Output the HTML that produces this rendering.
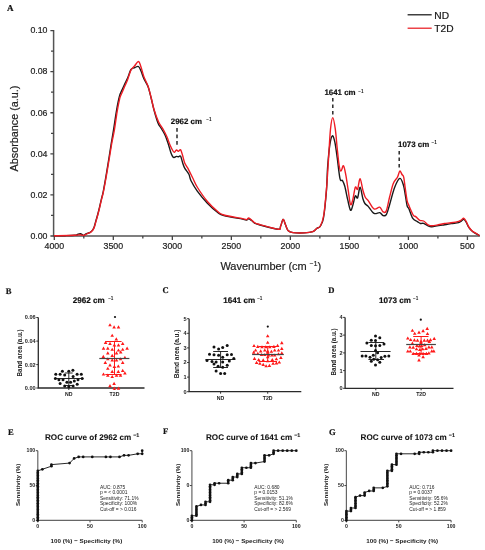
<!DOCTYPE html>
<html><head><meta charset="utf-8"><title>Figure</title>
<style>html,body{margin:0;padding:0;background:#fff;width:485px;height:550px;overflow:hidden}svg{display:block;will-change:transform}.h{text-rendering:geometricPrecision;stroke:#1a1a1a;stroke-width:0.2px}.m{text-rendering:geometricPrecision;stroke:#1a1a1a;stroke-width:0.08px}</style>
</head><body>
<svg width="485" height="550" viewBox="0 0 485 550">
<rect width="485" height="550" fill="#fff"/>
<text x="7" y="10.8" font-family="'Liberation Serif', serif" font-size="9" font-weight="bold" fill="#111" class="h">A</text>
<path d="M53.6,236 H480 M53.6,236.6 V30" stroke="#555" stroke-width="1.5" fill="none"/>
<path d="M50.4,236 H54 M51,215.46 H54 M50.4,194.92 H54 M51,174.38 H54 M50.4,153.84 H54 M51,133.3 H54 M50.4,112.76 H54 M51,92.22 H54 M50.4,71.68 H54 M51,51.14 H54 M50.4,30.6 H54 M54.29,236 V240 M83.8,236 V238.5 M113.31,236 V240 M142.82,236 V238.5 M172.33,236 V240 M201.84,236 V238.5 M231.35,236 V240 M260.85,236 V238.5 M290.36,236 V240 M319.87,236 V238.5 M349.38,236 V240 M378.89,236 V238.5 M408.4,236 V240 M437.91,236 V238.5 M467.42,236 V240" stroke="#444" stroke-width="1.3" fill="none"/>
<text x="47.5" y="238.8" font-family="'Liberation Sans', sans-serif" font-size="8.8" fill="#222" stroke="#222" stroke-width="0.2" text-anchor="end">0.00</text>
<text x="47.5" y="197.72" font-family="'Liberation Sans', sans-serif" font-size="8.8" fill="#222" stroke="#222" stroke-width="0.2" text-anchor="end">0.02</text>
<text x="47.5" y="156.64" font-family="'Liberation Sans', sans-serif" font-size="8.8" fill="#222" stroke="#222" stroke-width="0.2" text-anchor="end">0.04</text>
<text x="47.5" y="115.56" font-family="'Liberation Sans', sans-serif" font-size="8.8" fill="#222" stroke="#222" stroke-width="0.2" text-anchor="end">0.06</text>
<text x="47.5" y="74.48" font-family="'Liberation Sans', sans-serif" font-size="8.8" fill="#222" stroke="#222" stroke-width="0.2" text-anchor="end">0.08</text>
<text x="47.5" y="33.4" font-family="'Liberation Sans', sans-serif" font-size="8.8" fill="#222" stroke="#222" stroke-width="0.2" text-anchor="end">0.10</text>
<text x="54.29" y="249.1" font-family="'Liberation Sans', sans-serif" font-size="8.8" fill="#222" stroke="#222" stroke-width="0.2" text-anchor="middle">4000</text>
<text x="113.31" y="249.1" font-family="'Liberation Sans', sans-serif" font-size="8.8" fill="#222" stroke="#222" stroke-width="0.2" text-anchor="middle">3500</text>
<text x="172.33" y="249.1" font-family="'Liberation Sans', sans-serif" font-size="8.8" fill="#222" stroke="#222" stroke-width="0.2" text-anchor="middle">3000</text>
<text x="231.35" y="249.1" font-family="'Liberation Sans', sans-serif" font-size="8.8" fill="#222" stroke="#222" stroke-width="0.2" text-anchor="middle">2500</text>
<text x="290.36" y="249.1" font-family="'Liberation Sans', sans-serif" font-size="8.8" fill="#222" stroke="#222" stroke-width="0.2" text-anchor="middle">2000</text>
<text x="349.38" y="249.1" font-family="'Liberation Sans', sans-serif" font-size="8.8" fill="#222" stroke="#222" stroke-width="0.2" text-anchor="middle">1500</text>
<text x="408.4" y="249.1" font-family="'Liberation Sans', sans-serif" font-size="8.8" fill="#222" stroke="#222" stroke-width="0.2" text-anchor="middle">1000</text>
<text x="467.42" y="249.1" font-family="'Liberation Sans', sans-serif" font-size="8.8" fill="#222" stroke="#222" stroke-width="0.2" text-anchor="middle">500</text>
<text x="220.4" y="270.3" font-family="'Liberation Sans', sans-serif" font-size="11" fill="#222" stroke="#222" stroke-width="0.2">Wavenumber (cm <tspan font-size="6.6" dy="-4.2">−1</tspan><tspan dy="4.2">)</tspan></text>
<text transform="translate(17.7,128.5) rotate(-90)" x="0" y="0" font-family="'Liberation Sans', sans-serif" font-size="10.8" fill="#222" stroke="#222" stroke-width="0.2" text-anchor="middle">Absorbance (a.u.)</text>
<path d="M407.6,14.8 H431.7" stroke="#111" stroke-width="1.2"/>
<path d="M407.6,28.2 H431.7" stroke="#e8141b" stroke-width="1.2"/>
<text x="434.3" y="18.6" font-family="'Liberation Sans', sans-serif" font-size="10.2" fill="#111" class="h">ND</text>
<text x="434.3" y="32" font-family="'Liberation Sans', sans-serif" font-size="10.2" fill="#111" class="h">T2D</text>
<path d="M54,235.8 C55.83,235.78 61.5,235.78 65,235.7 C68.5,235.62 72.83,235.55 75,235.3 C77.17,235.05 77.08,234.45 78,234.2 C78.92,233.95 79.75,233.7 80.5,233.8 C81.25,233.9 81.92,234.53 82.5,234.8 C83.08,235.07 83.42,235.57 84,235.4 C84.58,235.23 85.33,234.17 86,233.8 C86.67,233.43 87.25,233.48 88,233.2 C88.75,232.92 89.72,232.65 90.5,232.1 C91.28,231.55 92.1,230.72 92.7,229.9 C93.3,229.08 93.57,228.7 94.1,227.2 C94.63,225.7 95.3,223.02 95.9,220.9 C96.5,218.78 97.1,216.77 97.7,214.5 C98.3,212.23 98.88,209.87 99.5,207.3 C100.12,204.73 100.78,201.68 101.4,199.1 C102.02,196.52 102.43,195.62 103.2,191.8 C103.97,187.98 105,182.08 106,176.2 C107,170.32 108.28,162.2 109.2,156.5 C110.12,150.8 110.78,146.42 111.5,142 C112.22,137.58 112.65,135.33 113.5,130 C114.35,124.67 115.62,115.6 116.6,110 C117.58,104.4 118.57,99.58 119.4,96.4 C120.23,93.22 120.62,93.18 121.6,90.9 C122.58,88.62 124.23,85.02 125.3,82.7 C126.37,80.38 127.05,79.2 128,77 C128.95,74.8 129.83,71.08 131,69.5 C132.17,67.92 133.75,68 135,67.5 C136.25,67 137.5,65.92 138.5,66.5 C139.5,67.08 140.08,68.92 141,71 C141.92,73.08 142.83,76.42 144,79 C145.17,81.58 146.83,83.42 148,86.5 C149.17,89.58 150,93.58 151,97.5 C152,101.42 152.83,105.75 154,110 C155.17,114.25 156.83,120 158,123 C159.17,126 159.83,126 161,128 C162.17,130 163.83,132.5 165,135 C166.17,137.5 167,140 168,143 C169,146 170.17,150.67 171,153 C171.83,155.33 172.43,156.27 173,157 C173.57,157.73 173.82,157.5 174.4,157.4 C174.98,157.3 175.8,156.5 176.5,156.4 C177.2,156.3 177.92,156.83 178.6,156.8 C179.28,156.77 179.92,155.17 180.6,156.2 C181.28,157.23 182.02,161.02 182.7,163 C183.38,164.98 183.67,166.22 184.7,168.1 C185.73,169.98 187.87,172.23 188.9,174.3 C189.93,176.37 189.53,177.75 190.9,180.5 C192.27,183.25 194.35,187.02 197.1,190.8 C199.85,194.58 203.97,199.58 207.4,203.2 C210.83,206.82 214.95,210.43 217.7,212.5 C220.45,214.57 219.77,214.5 223.9,215.6 C228.03,216.7 238.72,218.35 242.5,219.1 C246.28,219.85 245.57,220.17 246.6,220.1 C247.63,220.03 247.83,218.6 248.7,218.7 C249.57,218.8 250.75,219.93 251.8,220.7 C252.85,221.47 253.63,222.58 255,223.3 C256.37,224.02 256.15,224 260,225 C263.85,226 274.67,229.08 278.1,229.3 C281.53,229.52 279.77,227.95 280.6,226.3 C281.43,224.65 282.28,219.67 283.1,219.4 C283.92,219.13 284.68,222.87 285.5,224.7 C286.32,226.53 286.75,229.08 288,230.4 C289.25,231.72 290.25,232.18 293,232.6 C295.75,233.02 301.2,233.07 304.5,232.9 C307.8,232.73 310.73,232.37 312.8,231.6 C314.87,230.83 315.67,229.18 316.9,228.3 C318.13,227.42 319.1,228.02 320.2,226.3 C321.3,224.58 322.45,224.05 323.5,218 C324.55,211.95 325.82,198.45 326.5,190 C327.18,181.55 327.03,174.9 327.6,167.3 C328.17,159.7 329.1,149.65 329.9,144.4 C330.7,139.15 331.57,136.13 332.4,135.8 C333.23,135.47 334.1,138.75 334.9,142.4 C335.7,146.05 336.35,151.65 337.2,157.7 C338.05,163.75 339.12,174.88 340,178.7 C340.88,182.52 341.7,179.33 342.5,180.6 C343.3,181.87 343.93,183.12 344.8,186.3 C345.67,189.48 346.75,195.72 347.7,199.7 C348.65,203.68 349.65,209.25 350.5,210.2 C351.35,211.15 352,207.78 352.8,205.4 C353.6,203.02 354.5,197.17 355.3,195.9 C356.1,194.63 356.8,199.23 357.6,197.8 C358.4,196.37 359.22,187.15 360.1,187.3 C360.98,187.45 362.1,196 362.9,198.7 C363.7,201.4 364.02,202.22 364.9,203.5 C365.78,204.78 366.68,204.75 368.2,206.4 C369.72,208.05 372.08,212.37 374,213.4 C375.92,214.43 378.2,212.25 379.7,212.6 C381.2,212.95 381.9,215.17 383,215.5 C384.1,215.83 385.2,216.4 386.3,214.6 C387.4,212.8 388.22,209.22 389.6,204.7 C390.98,200.18 392.9,191.88 394.6,187.5 C396.3,183.12 398.35,178.87 399.8,178.4 C401.25,177.93 402.4,182.05 403.3,184.7 C404.2,187.35 404.57,190.8 405.2,194.3 C405.83,197.8 406.47,203.27 407.1,205.7 C407.73,208.13 408.05,206.78 409,208.9 C409.95,211.02 411.42,216.28 412.8,218.4 C414.18,220.52 416.03,220.75 417.3,221.6 C418.57,222.45 419.35,223.22 420.4,223.5 C421.45,223.78 422.32,222.92 423.6,223.3 C424.88,223.68 426.72,225.23 428.1,225.8 C429.48,226.37 429.15,226.87 431.9,226.7 C434.65,226.53 441.4,225.32 444.6,224.8 C447.8,224.28 448.77,223.97 451.1,223.6 C453.43,223.23 456.9,223.02 458.6,222.6 C460.3,222.18 460.45,221.63 461.3,221.1 C462.15,220.57 462.92,219.28 463.7,219.4 C464.48,219.52 465.15,220.47 466,221.8 C466.85,223.13 467.72,225.78 468.8,227.4 C469.88,229.02 471.12,230.37 472.5,231.5 C473.88,232.63 475.95,233.52 477.1,234.2 C478.25,234.88 479.02,235.37 479.4,235.6" stroke="#1a1a1a" stroke-width="1.4" fill="none" stroke-linejoin="round"/>
<path d="M54,235.8 C57.5,235.72 70.67,235.47 75,235.3 C79.33,235.13 78.5,234.8 80,234.8 C81.5,234.8 82.67,235.55 84,235.3 C85.33,235.05 86.92,233.8 88,233.3 C89.08,232.8 89.68,232.85 90.5,232.3 C91.32,231.75 92.27,230.83 92.9,230 C93.53,229.17 93.77,228.82 94.3,227.3 C94.83,225.78 95.5,223.03 96.1,220.9 C96.7,218.77 97.3,216.77 97.9,214.5 C98.5,212.23 99.08,209.87 99.7,207.3 C100.32,204.73 100.98,201.68 101.6,199.1 C102.22,196.52 102.62,195.62 103.4,191.8 C104.18,187.98 105.27,182.08 106.3,176.2 C107.33,170.32 108.65,162.2 109.6,156.5 C110.55,150.8 111.2,146.42 112,142 C112.8,137.58 113.55,135.03 114.4,130 C115.25,124.97 116.2,117.1 117.1,111.8 C118,106.5 119.12,101.08 119.8,98.2 C120.48,95.32 120.52,96.17 121.2,94.5 C121.88,92.83 122.85,90.62 123.9,88.2 C124.95,85.78 126.32,83.03 127.5,80 C128.68,76.97 129.83,72.33 131,70 C132.17,67.67 133.25,67.42 134.5,66 C135.75,64.58 137.42,61.33 138.5,61.5 C139.58,61.67 140.08,64.42 141,67 C141.92,69.58 142.83,73.83 144,77 C145.17,80.17 146.83,82.67 148,86 C149.17,89.33 150,93.08 151,97 C152,100.92 152.73,105.33 154,109.5 C155.27,113.67 157.1,118.75 158.6,122 C160.1,125.25 161.6,126.5 163,129 C164.4,131.5 165.83,134.33 167,137 C168.17,139.67 169,142.67 170,145 C171,147.33 172.25,149.78 173,151 C173.75,152.22 173.92,152.47 174.5,152.3 C175.08,152.13 175.82,150.17 176.5,150 C177.18,149.83 177.92,151.33 178.6,151.3 C179.28,151.27 179.92,149.05 180.6,149.8 C181.28,150.55 182.02,153.6 182.7,155.8 C183.38,158 183.85,160.95 184.7,163 C185.55,165.05 186.77,166.22 187.8,168.1 C188.83,169.98 190.03,172.57 190.9,174.3 C191.77,176.03 191.9,176.3 193,178.5 C194.1,180.7 195.1,183.67 197.5,187.5 C199.9,191.33 204.03,197.5 207.4,201.5 C210.77,205.5 214.95,209.25 217.7,211.5 C220.45,213.75 219.77,213.82 223.9,215 C228.03,216.18 238.72,217.83 242.5,218.6 C246.28,219.37 245.57,219.7 246.6,219.6 C247.63,219.5 247.83,217.9 248.7,218 C249.57,218.1 250.75,219.37 251.8,220.2 C252.85,221.03 253.63,222.27 255,223 C256.37,223.73 256.15,223.55 260,224.6 C263.85,225.65 274.67,229.02 278.1,229.3 C281.53,229.58 279.77,227.95 280.6,226.3 C281.43,224.65 282.28,219.67 283.1,219.4 C283.92,219.13 284.68,222.87 285.5,224.7 C286.32,226.53 286.75,229.08 288,230.4 C289.25,231.72 290.25,232.18 293,232.6 C295.75,233.02 301.2,233.07 304.5,232.9 C307.8,232.73 310.73,232.37 312.8,231.6 C314.87,230.83 315.67,229.18 316.9,228.3 C318.13,227.42 319.05,228.52 320.2,226.3 C321.35,224.08 322.72,221.67 323.8,215 C324.88,208.33 325.9,195.85 326.7,186.3 C327.5,176.75 327.97,167.23 328.6,157.7 C329.23,148.17 329.8,135.78 330.5,129.1 C331.2,122.42 332,117.6 332.8,117.6 C333.6,117.6 334.57,124 335.3,129.1 C336.03,134.2 336.57,142.17 337.2,148.2 C337.83,154.23 338.47,161.48 339.1,165.3 C339.73,169.12 340.27,171.03 341,171.1 C341.73,171.17 342.7,165.07 343.5,165.7 C344.3,166.33 345.02,170.82 345.8,174.9 C346.58,178.98 347.42,185.27 348.2,190.2 C348.98,195.13 349.73,202.92 350.5,204.5 C351.27,206.08 352,202.57 352.8,199.7 C353.6,196.83 354.5,189.05 355.3,187.3 C356.1,185.55 356.8,190.63 357.6,189.2 C358.4,187.77 359.22,178.53 360.1,178.7 C360.98,178.87 362.03,187.1 362.9,190.2 C363.77,193.3 364.42,195.57 365.3,197.3 C366.18,199.03 366.75,198.67 368.2,200.6 C369.65,202.53 372.08,207.8 374,208.9 C375.92,210 378.2,206.72 379.7,207.2 C381.2,207.68 381.9,211.18 383,211.8 C384.1,212.42 385.2,213.37 386.3,210.9 C387.4,208.43 388.43,201.57 389.6,197 C390.77,192.43 391.98,186.82 393.3,183.5 C394.62,180.18 396.42,179.17 397.5,177.1 C398.58,175.03 399.05,171.53 399.8,171.1 C400.55,170.67 401.35,173.5 402,174.5 C402.65,175.5 403.17,174.87 403.7,177.1 C404.23,179.33 404.63,183.98 405.2,187.9 C405.77,191.82 406.47,197.63 407.1,200.6 C407.73,203.57 408.37,204.1 409,205.7 C409.63,207.3 410.17,208.6 410.9,210.2 C411.63,211.8 412.55,214.18 413.4,215.3 C414.25,216.42 414.93,216.07 416,216.9 C417.07,217.73 418.53,219.62 419.8,220.3 C421.07,220.98 422.22,220.25 423.6,221 C424.98,221.75 426.72,224 428.1,224.8 C429.48,225.6 430.2,225.8 431.9,225.8 C433.6,225.8 436.18,225.18 438.3,224.8 C440.42,224.42 442.47,223.83 444.6,223.5 C446.73,223.17 448.77,223.15 451.1,222.8 C453.43,222.45 456.9,221.87 458.6,221.4 C460.3,220.93 460.45,220.53 461.3,220 C462.15,219.47 462.92,218.03 463.7,218.2 C464.48,218.37 465.15,219.53 466,221 C466.85,222.47 467.72,225.3 468.8,227 C469.88,228.7 471.12,230.03 472.5,231.2 C473.88,232.37 475.95,233.27 477.1,234 C478.25,234.73 479.02,235.33 479.4,235.6" stroke="#ee1c24" stroke-width="1.4" fill="none" stroke-linejoin="round"/>
<text x="170.8" y="123.8" font-family="'Liberation Sans', sans-serif" font-size="7.9" font-weight="bold" fill="#111" class="h">2962 cm</text>
<text x="206.3" y="120.8" font-family="'Liberation Sans', sans-serif" font-size="4.6" font-weight="bold" fill="#111">−1</text>
<text x="324.4" y="95.2" font-family="'Liberation Sans', sans-serif" font-size="7.9" font-weight="bold" fill="#111" class="h">1641 cm</text>
<text x="358.3" y="93.2" font-family="'Liberation Sans', sans-serif" font-size="4.6" font-weight="bold" fill="#111">−1</text>
<text x="398" y="146.6" font-family="'Liberation Sans', sans-serif" font-size="7.9" font-weight="bold" fill="#111" class="h">1073 cm</text>
<text x="431.6" y="143.6" font-family="'Liberation Sans', sans-serif" font-size="4.6" font-weight="bold" fill="#111">−1</text>
<path d="M177,128.1 V144.7 M332.8,98 V114.6 M399.2,150.9 V167.5" stroke="#2a2a2a" stroke-width="1.5" stroke-dasharray="3.6,2.9" fill="none"/>
<text x="5.8" y="293.5" font-family="'Liberation Serif', serif" font-size="8.6" font-weight="bold" fill="#111" class="h">B</text>
<text x="72.7" y="303.1" font-family="'Liberation Sans', sans-serif" font-size="8.1" font-weight="bold" fill="#111" class="h">2962 cm</text>
<text x="108.2" y="300.2" font-family="'Liberation Sans', sans-serif" font-size="4.6" font-weight="bold" fill="#111">−1</text>
<path d="M38.3,317.5 V388 H144.5" stroke="#2a2a2a" stroke-width="1.3" fill="none"/>
<path d="M36.3,317.5 H38.3 M36.3,341.1 H38.3 M36.3,364.6 H38.3 M36.3,388 H38.3 M68.8,388 V390 M114.5,388 V390" stroke="#333" stroke-width="1" fill="none"/>
<text x="35.7" y="319.4" font-family="'Liberation Sans', sans-serif" font-size="5.6" font-weight="bold" fill="#222" text-anchor="end">0.06</text>
<text x="35.7" y="343" font-family="'Liberation Sans', sans-serif" font-size="5.6" font-weight="bold" fill="#222" text-anchor="end">0.04</text>
<text x="35.7" y="366.5" font-family="'Liberation Sans', sans-serif" font-size="5.6" font-weight="bold" fill="#222" text-anchor="end">0.02</text>
<text x="35.7" y="389.9" font-family="'Liberation Sans', sans-serif" font-size="5.6" font-weight="bold" fill="#222" text-anchor="end">0.00</text>
<text x="68.8" y="396.1" font-family="'Liberation Sans', sans-serif" font-size="5.2" font-weight="bold" fill="#222" text-anchor="middle">ND</text>
<text x="114.5" y="396.1" font-family="'Liberation Sans', sans-serif" font-size="5.2" font-weight="bold" fill="#222" text-anchor="middle">T2D</text>
<text transform="translate(22.2,352.9) rotate(-90)" font-family="'Liberation Sans', sans-serif" font-size="6.3" font-weight="bold" fill="#222" text-anchor="middle">Band area (a.u.)</text>
<g fill="#111"><circle cx="62.4" cy="371.2" r="1.5"/><circle cx="68.8" cy="371.2" r="1.5"/><circle cx="72.9" cy="370.2" r="1.5"/><circle cx="55.8" cy="374.2" r="1.5"/><circle cx="60.1" cy="374.2" r="1.5"/><circle cx="64.7" cy="375" r="1.5"/><circle cx="73.1" cy="376.4" r="1.5"/><circle cx="77.1" cy="374.2" r="1.5"/><circle cx="81.3" cy="374.2" r="1.5"/><circle cx="55.4" cy="378.5" r="1.5"/><circle cx="58.9" cy="379.7" r="1.5"/><circle cx="63" cy="379.7" r="1.5"/><circle cx="78" cy="379.7" r="1.5"/><circle cx="82.2" cy="378.5" r="1.5"/><circle cx="74.3" cy="381.1" r="1.5"/><circle cx="66.9" cy="382.2" r="1.5"/><circle cx="70.6" cy="382.2" r="1.5"/><circle cx="60.1" cy="383.6" r="1.5"/><circle cx="77.2" cy="384.3" r="1.5"/><circle cx="64.7" cy="385.9" r="1.5"/><circle cx="68.8" cy="386.7" r="1.5"/><circle cx="73.1" cy="385.9" r="1.5"/></g>
<path d="M54.5,378.5 H83.4 M64.8,373 H72.7 M64.8,385.5 H72.7 M68.8,373 V385.5" stroke="#111" stroke-width="0.9" fill="none"/>
<path d="M110,323.15 l1.8,3.15 h-3.6z M114.1,325.35 l1.8,3.15 h-3.6z M118.5,325.35 l1.8,3.15 h-3.6z M112.2,333.65 l1.8,3.15 h-3.6z M116.3,337.25 l1.8,3.15 h-3.6z M105.6,340.75 l1.8,3.15 h-3.6z M110,341.85 l1.8,3.15 h-3.6z M114.4,343.35 l1.8,3.15 h-3.6z M118.5,343.35 l1.8,3.15 h-3.6z M122.7,341.85 l1.8,3.15 h-3.6z M103.5,346.55 l1.8,3.15 h-3.6z M107.8,346.55 l1.8,3.15 h-3.6z M112.2,347.65 l1.8,3.15 h-3.6z M118.5,348.45 l1.8,3.15 h-3.6z M120.7,350.25 l1.8,3.15 h-3.6z M122.7,347.65 l1.8,3.15 h-3.6z M127.1,346.55 l1.8,3.15 h-3.6z M107.8,351.35 l1.8,3.15 h-3.6z M116.5,351.35 l1.8,3.15 h-3.6z M112.2,353.75 l1.8,3.15 h-3.6z M103.3,354.75 l1.8,3.15 h-3.6z M107.8,357.15 l1.8,3.15 h-3.6z M112.2,358.25 l1.8,3.15 h-3.6z M116.5,358.25 l1.8,3.15 h-3.6z M120.5,357.15 l1.8,3.15 h-3.6z M124.9,355.75 l1.8,3.15 h-3.6z M105.3,360.75 l1.8,3.15 h-3.6z M122.7,360.75 l1.8,3.15 h-3.6z M110,363.35 l1.8,3.15 h-3.6z M114.4,364.75 l1.8,3.15 h-3.6z M118.3,364.45 l1.8,3.15 h-3.6z M107.8,366.65 l1.8,3.15 h-3.6z M112.2,369.85 l1.8,3.15 h-3.6z M118.3,369.85 l1.8,3.15 h-3.6z M122.7,368.75 l1.8,3.15 h-3.6z M124.9,371.35 l1.8,3.15 h-3.6z M103.5,372.45 l1.8,3.15 h-3.6z M107.8,373.55 l1.8,3.15 h-3.6z M112.2,374.95 l1.8,3.15 h-3.6z M116.5,373.55 l1.8,3.15 h-3.6z M120.5,373.55 l1.8,3.15 h-3.6z M114.1,381.85 l1.8,3.15 h-3.6z M110,384.05 l1.8,3.15 h-3.6z M114.4,386.55 l1.8,3.15 h-3.6z M118.5,386.55 l1.8,3.15 h-3.6z" fill="#ff1a1a"/>
<path d="M105.3,341.5 H121.6 M105.3,374.5 H121.6 M114.5,341.5 V374.5" stroke="#ff1a1a" stroke-width="1" fill="none"/>
<path d="M99.3,358.5 H129.4" stroke="#444" stroke-width="1.2" fill="none"/>
<circle cx="115" cy="317" r="1.1" fill="#111"/>
<text x="162.5" y="293" font-family="'Liberation Serif', serif" font-size="8.6" font-weight="bold" fill="#111" class="h">C</text>
<text x="223.3" y="303.1" font-family="'Liberation Sans', sans-serif" font-size="8.1" font-weight="bold" fill="#111" class="h">1641 cm</text>
<text x="257.2" y="300.2" font-family="'Liberation Sans', sans-serif" font-size="4.6" font-weight="bold" fill="#111">−1</text>
<path d="M189.1,318.7 V391.7 H301.3" stroke="#2a2a2a" stroke-width="1.3" fill="none"/>
<path d="M187.1,318.7 H189.1 M187.1,333.3 H189.1 M187.1,347.9 H189.1 M187.1,362.5 H189.1 M187.1,377.1 H189.1 M187.1,391.7 H189.1 M220.6,391.7 V393.7 M267.7,391.7 V393.7" stroke="#333" stroke-width="1" fill="none"/>
<text x="186.5" y="320.6" font-family="'Liberation Sans', sans-serif" font-size="5.6" font-weight="bold" fill="#222" text-anchor="end">5</text>
<text x="186.5" y="335.2" font-family="'Liberation Sans', sans-serif" font-size="5.6" font-weight="bold" fill="#222" text-anchor="end">4</text>
<text x="186.5" y="349.8" font-family="'Liberation Sans', sans-serif" font-size="5.6" font-weight="bold" fill="#222" text-anchor="end">3</text>
<text x="186.5" y="364.4" font-family="'Liberation Sans', sans-serif" font-size="5.6" font-weight="bold" fill="#222" text-anchor="end">2</text>
<text x="186.5" y="379" font-family="'Liberation Sans', sans-serif" font-size="5.6" font-weight="bold" fill="#222" text-anchor="end">1</text>
<text x="186.5" y="393.6" font-family="'Liberation Sans', sans-serif" font-size="5.6" font-weight="bold" fill="#222" text-anchor="end">0</text>
<text x="220.6" y="399.8" font-family="'Liberation Sans', sans-serif" font-size="5.2" font-weight="bold" fill="#222" text-anchor="middle">ND</text>
<text x="267.7" y="399.8" font-family="'Liberation Sans', sans-serif" font-size="5.2" font-weight="bold" fill="#222" text-anchor="middle">T2D</text>
<text transform="translate(179,353.9) rotate(-90)" font-family="'Liberation Sans', sans-serif" font-size="6.5" font-weight="bold" fill="#222" text-anchor="middle">Band area (a.u.)</text>
<g fill="#111"><circle cx="214" cy="347" r="1.5"/><circle cx="218.6" cy="349.1" r="1.5"/><circle cx="222.7" cy="347.6" r="1.5"/><circle cx="227.2" cy="345.4" r="1.5"/><circle cx="209.5" cy="354.2" r="1.5"/><circle cx="214" cy="354.8" r="1.5"/><circle cx="218.6" cy="355.3" r="1.5"/><circle cx="227.2" cy="354.8" r="1.5"/><circle cx="231.5" cy="354.4" r="1.5"/><circle cx="222.7" cy="357.3" r="1.5"/><circle cx="233.8" cy="358.6" r="1.5"/><circle cx="207" cy="360.6" r="1.5"/><circle cx="212" cy="361.6" r="1.5"/><circle cx="216.1" cy="361.9" r="1.5"/><circle cx="214" cy="363.9" r="1.5"/><circle cx="222.7" cy="361.9" r="1.5"/><circle cx="229.3" cy="361" r="1.5"/><circle cx="218.1" cy="366.2" r="1.5"/><circle cx="222.7" cy="367.2" r="1.5"/><circle cx="227.2" cy="365.2" r="1.5"/><circle cx="216.1" cy="370.9" r="1.5"/><circle cx="220.6" cy="373.4" r="1.5"/><circle cx="224.7" cy="373.4" r="1.5"/></g>
<path d="M205.4,359.5 H235.5 M213.2,351.5 H228 M213.2,367.5 H228 M220.6,351.5 V367.5" stroke="#111" stroke-width="0.9" fill="none"/>
<path d="M267.7,334.15 l1.8,3.15 h-3.6z M267.7,340.65 l1.8,3.15 h-3.6z M281.8,341.05 l1.8,3.15 h-3.6z M254,343.95 l1.8,3.15 h-3.6z M257.8,344.75 l1.8,3.15 h-3.6z M262,345.15 l1.8,3.15 h-3.6z M265.8,345.15 l1.8,3.15 h-3.6z M269.8,345.15 l1.8,3.15 h-3.6z M273.9,344.75 l1.8,3.15 h-3.6z M277.6,343.75 l1.8,3.15 h-3.6z M281.8,346.85 l1.8,3.15 h-3.6z M255.6,348.45 l1.8,3.15 h-3.6z M260.7,349.25 l1.8,3.15 h-3.6z M264.8,348.45 l1.8,3.15 h-3.6z M267.7,349.25 l1.8,3.15 h-3.6z M271.4,349.65 l1.8,3.15 h-3.6z M274.7,348.45 l1.8,3.15 h-3.6z M278.5,348.45 l1.8,3.15 h-3.6z M253.7,350.55 l1.8,3.15 h-3.6z M267.7,350.55 l1.8,3.15 h-3.6z M281.8,351.35 l1.8,3.15 h-3.6z M257.8,351.75 l1.8,3.15 h-3.6z M261.5,352.95 l1.8,3.15 h-3.6z M264.8,352.95 l1.8,3.15 h-3.6z M268.6,353.45 l1.8,3.15 h-3.6z M271.9,353.45 l1.8,3.15 h-3.6z M274.7,353.45 l1.8,3.15 h-3.6z M278.5,352.15 l1.8,3.15 h-3.6z M267.7,355.05 l1.8,3.15 h-3.6z M280.9,355.85 l1.8,3.15 h-3.6z M254.5,356.75 l1.8,3.15 h-3.6z M258.7,357.95 l1.8,3.15 h-3.6z M263.2,358.35 l1.8,3.15 h-3.6z M267.7,359.15 l1.8,3.15 h-3.6z M272.3,357.95 l1.8,3.15 h-3.6z M276.4,357.15 l1.8,3.15 h-3.6z M256.6,360.85 l1.8,3.15 h-3.6z M259.9,361.65 l1.8,3.15 h-3.6z M263.2,362.85 l1.8,3.15 h-3.6z M266.1,364.15 l1.8,3.15 h-3.6z M269.4,363.75 l1.8,3.15 h-3.6z M273.1,361.65 l1.8,3.15 h-3.6z M276.4,361.25 l1.8,3.15 h-3.6z M279.3,360.45 l1.8,3.15 h-3.6z" fill="#ff1a1a"/>
<path d="M258.5,346.5 H277 M258.5,361.5 H277 M267.7,346.5 V361.5" stroke="#ff1a1a" stroke-width="1" fill="none"/>
<path d="M252.1,354.5 H283.8" stroke="#444" stroke-width="1.2" fill="none"/>
<circle cx="267.8" cy="326.6" r="1.1" fill="#111"/>
<text x="328.3" y="293.3" font-family="'Liberation Serif', serif" font-size="8.6" font-weight="bold" fill="#111" class="h">D</text>
<text x="378.9" y="303.1" font-family="'Liberation Sans', sans-serif" font-size="8.1" font-weight="bold" fill="#111" class="h">1073 cm</text>
<text x="413" y="300.2" font-family="'Liberation Sans', sans-serif" font-size="4.6" font-weight="bold" fill="#111">−1</text>
<path d="M345.1,317.4 V388.3 H453.5" stroke="#2a2a2a" stroke-width="1.3" fill="none"/>
<path d="M343.1,317.4 H345.1 M343.1,335.1 H345.1 M343.1,352.9 H345.1 M343.1,370.6 H345.1 M343.1,388.3 H345.1 M375.8,388.3 V390.3 M421.1,388.3 V390.3" stroke="#333" stroke-width="1" fill="none"/>
<text x="342.5" y="319.3" font-family="'Liberation Sans', sans-serif" font-size="5.6" font-weight="bold" fill="#222" text-anchor="end">4</text>
<text x="342.5" y="337" font-family="'Liberation Sans', sans-serif" font-size="5.6" font-weight="bold" fill="#222" text-anchor="end">3</text>
<text x="342.5" y="354.8" font-family="'Liberation Sans', sans-serif" font-size="5.6" font-weight="bold" fill="#222" text-anchor="end">2</text>
<text x="342.5" y="372.5" font-family="'Liberation Sans', sans-serif" font-size="5.6" font-weight="bold" fill="#222" text-anchor="end">1</text>
<text x="342.5" y="390.2" font-family="'Liberation Sans', sans-serif" font-size="5.6" font-weight="bold" fill="#222" text-anchor="end">0</text>
<text x="375.8" y="396.4" font-family="'Liberation Sans', sans-serif" font-size="5.2" font-weight="bold" fill="#222" text-anchor="middle">ND</text>
<text x="421.1" y="396.4" font-family="'Liberation Sans', sans-serif" font-size="5.2" font-weight="bold" fill="#222" text-anchor="middle">T2D</text>
<text transform="translate(335.8,351.9) rotate(-90)" font-family="'Liberation Sans', sans-serif" font-size="6.3" font-weight="bold" fill="#222" text-anchor="middle">Band area (a.u.)</text>
<g fill="#111"><circle cx="375.5" cy="335.9" r="1.5"/><circle cx="379.8" cy="337.8" r="1.5"/><circle cx="371.3" cy="340.3" r="1.5"/><circle cx="375.5" cy="340.6" r="1.5"/><circle cx="366.9" cy="343" r="1.5"/><circle cx="384" cy="344" r="1.5"/><circle cx="371.3" cy="345.5" r="1.5"/><circle cx="375.5" cy="345.7" r="1.5"/><circle cx="379.8" cy="345.5" r="1.5"/><circle cx="375.5" cy="350.6" r="1.5"/><circle cx="377.6" cy="352.7" r="1.5"/><circle cx="362.2" cy="356" r="1.5"/><circle cx="365.9" cy="356" r="1.5"/><circle cx="370" cy="357.2" r="1.5"/><circle cx="373.3" cy="355.2" r="1.5"/><circle cx="381.2" cy="357.6" r="1.5"/><circle cx="384.9" cy="356.2" r="1.5"/><circle cx="388.8" cy="356" r="1.5"/><circle cx="373.7" cy="359.3" r="1.5"/><circle cx="377.6" cy="359.7" r="1.5"/><circle cx="371.3" cy="361.3" r="1.5"/><circle cx="379.8" cy="362.3" r="1.5"/><circle cx="375.5" cy="365.1" r="1.5"/></g>
<path d="M360.5,351.5 H390.6 M368.4,342.5 H384 M368.4,359.5 H384 M375.8,342.5 V359.5" stroke="#111" stroke-width="0.9" fill="none"/>
<path d="M412.4,328.65 l1.8,3.15 h-3.6z M427.2,326.75 l1.8,3.15 h-3.6z M423.1,329.05 l1.8,3.15 h-3.6z M419,330.55 l1.8,3.15 h-3.6z M414.7,331.65 l1.8,3.15 h-3.6z M427.5,331.95 l1.8,3.15 h-3.6z M407.8,336.45 l1.8,3.15 h-3.6z M410.7,337.95 l1.8,3.15 h-3.6z M414.4,338.25 l1.8,3.15 h-3.6z M417.5,338.55 l1.8,3.15 h-3.6z M421,339.55 l1.8,3.15 h-3.6z M424.3,338.55 l1.8,3.15 h-3.6z M427.5,338.55 l1.8,3.15 h-3.6z M430.5,338.05 l1.8,3.15 h-3.6z M434.2,336.85 l1.8,3.15 h-3.6z M429.3,339.75 l1.8,3.15 h-3.6z M412.4,341.55 l1.8,3.15 h-3.6z M421,340.95 l1.8,3.15 h-3.6z M416.9,343.85 l1.8,3.15 h-3.6z M424.7,343.05 l1.8,3.15 h-3.6z M419.4,344.25 l1.8,3.15 h-3.6z M421.6,343.85 l1.8,3.15 h-3.6z M409.9,345.35 l1.8,3.15 h-3.6z M413.2,345.55 l1.8,3.15 h-3.6z M416.5,347.15 l1.8,3.15 h-3.6z M419.8,347.95 l1.8,3.15 h-3.6z M422.7,347.15 l1.8,3.15 h-3.6z M426,346.75 l1.8,3.15 h-3.6z M428.9,345.35 l1.8,3.15 h-3.6z M431.8,345.35 l1.8,3.15 h-3.6z M407.8,349.45 l1.8,3.15 h-3.6z M410.3,349.45 l1.8,3.15 h-3.6z M413.2,351.75 l1.8,3.15 h-3.6z M416.5,351.75 l1.8,3.15 h-3.6z M419.8,351.75 l1.8,3.15 h-3.6z M423.1,351.75 l1.8,3.15 h-3.6z M426.4,351.75 l1.8,3.15 h-3.6z M428.9,351.25 l1.8,3.15 h-3.6z M431.8,349.25 l1.8,3.15 h-3.6z M433.8,349.25 l1.8,3.15 h-3.6z M419,353.35 l1.8,3.15 h-3.6z M423.1,355.05 l1.8,3.15 h-3.6z M419,358.35 l1.8,3.15 h-3.6z" fill="#ff1a1a"/>
<path d="M413.2,336.5 H428.5 M413.2,353.5 H428.5 M421.1,336.5 V353.5" stroke="#ff1a1a" stroke-width="1" fill="none"/>
<path d="M406.2,344.5 H435.9" stroke="#444" stroke-width="1.2" fill="none"/>
<circle cx="420.8" cy="319.7" r="1.1" fill="#111"/>
<text x="7.9" y="434.9" font-family="'Liberation Serif', serif" font-size="8.6" font-weight="bold" fill="#111" class="h">E</text>
<text x="45" y="439.6" font-family="'Liberation Sans', sans-serif" font-size="8.15" font-weight="bold" fill="#111" class="m">ROC curve of 2962 cm<tspan dx="1.9" dy="-2.2" font-size="5.4">−1</tspan></text>
<path d="M37.8,450.7 V520.4 H142.2" stroke="#666" stroke-width="1.2" fill="none"/>
<path d="M35.8,520.4 H37.8 M35.8,485.55 H37.8 M35.8,450.7 H37.8 M37.8,520.4 V522.4 M90,520.4 V522.4 M142.2,520.4 V522.4" stroke="#444" stroke-width="1" fill="none"/>
<text x="35.2" y="521.9" font-family="'Liberation Sans', sans-serif" font-size="5.2" font-weight="bold" fill="#222" text-anchor="end">0</text>
<text x="37.8" y="528.4" font-family="'Liberation Sans', sans-serif" font-size="5.2" font-weight="bold" fill="#222" text-anchor="middle">0</text>
<text x="35.2" y="487.05" font-family="'Liberation Sans', sans-serif" font-size="5.2" font-weight="bold" fill="#222" text-anchor="end">50</text>
<text x="90" y="528.4" font-family="'Liberation Sans', sans-serif" font-size="5.2" font-weight="bold" fill="#222" text-anchor="middle">50</text>
<text x="35.2" y="452.2" font-family="'Liberation Sans', sans-serif" font-size="5.2" font-weight="bold" fill="#222" text-anchor="end">100</text>
<text x="142.2" y="528.4" font-family="'Liberation Sans', sans-serif" font-size="5.2" font-weight="bold" fill="#222" text-anchor="middle">100</text>
<text x="86.4" y="542.9" font-family="'Liberation Sans', sans-serif" font-size="6.25" font-weight="bold" fill="#222" text-anchor="middle">100 (%) − Specificity (%)</text>
<text transform="translate(19.9,484.9) rotate(-90)" font-family="'Liberation Sans', sans-serif" font-size="6.2" font-weight="bold" fill="#222" text-anchor="middle">Sensitivity (%)</text>
<text x="99.9" y="488.8" font-family="'Liberation Sans', sans-serif" font-size="4.9" fill="#222">AUC: 0.875</text>
<text x="99.9" y="494.25" font-family="'Liberation Sans', sans-serif" font-size="4.9" fill="#222">p = &lt; 0.0001</text>
<text x="99.9" y="499.7" font-family="'Liberation Sans', sans-serif" font-size="4.9" fill="#222">Sensitivity: 71.1%</text>
<text x="99.9" y="505.15" font-family="'Liberation Sans', sans-serif" font-size="4.9" fill="#222">Specificity: 100%</text>
<text x="99.9" y="510.6" font-family="'Liberation Sans', sans-serif" font-size="4.9" fill="#222">Cut-off = &gt; 0.016</text>
<polyline points="37.8,520.4 37.8,518.85 37.8,517.3 37.8,515.75 37.8,514.2 37.8,512.66 37.8,511.11 37.8,509.56 37.8,508.01 37.8,506.46 37.8,504.91 37.8,503.36 37.8,501.81 37.8,500.26 37.8,498.72 37.8,497.17 37.8,495.62 37.8,494.07 37.8,492.52 37.8,490.97 37.8,489.42 37.8,487.87 37.8,486.32 37.8,484.78 37.8,483.23 37.8,481.68 37.8,480.13 37.8,478.58 37.8,477.03 37.8,475.48 37.8,473.93 37.8,472.38 37.8,470.84 42.34,469.29 51.42,466.19 51.42,464.64 69.57,463.09 74.11,458.44 78.65,456.9 83.19,456.9 92.27,456.9 105.89,456.9 110.43,456.9 119.5,456.9 124.04,455.35 128.58,455.35 137.66,453.8 142.2,453.8 142.2,450.7" stroke="#111" stroke-width="0.9" fill="none"/>
<g fill="#111"><circle cx="37.8" cy="520.4" r="1.35"/><circle cx="37.8" cy="518.85" r="1.35"/><circle cx="37.8" cy="517.3" r="1.35"/><circle cx="37.8" cy="515.75" r="1.35"/><circle cx="37.8" cy="514.2" r="1.35"/><circle cx="37.8" cy="512.66" r="1.35"/><circle cx="37.8" cy="511.11" r="1.35"/><circle cx="37.8" cy="509.56" r="1.35"/><circle cx="37.8" cy="508.01" r="1.35"/><circle cx="37.8" cy="506.46" r="1.35"/><circle cx="37.8" cy="504.91" r="1.35"/><circle cx="37.8" cy="503.36" r="1.35"/><circle cx="37.8" cy="501.81" r="1.35"/><circle cx="37.8" cy="500.26" r="1.35"/><circle cx="37.8" cy="498.72" r="1.35"/><circle cx="37.8" cy="497.17" r="1.35"/><circle cx="37.8" cy="495.62" r="1.35"/><circle cx="37.8" cy="494.07" r="1.35"/><circle cx="37.8" cy="492.52" r="1.35"/><circle cx="37.8" cy="490.97" r="1.35"/><circle cx="37.8" cy="489.42" r="1.35"/><circle cx="37.8" cy="487.87" r="1.35"/><circle cx="37.8" cy="486.32" r="1.35"/><circle cx="37.8" cy="484.78" r="1.35"/><circle cx="37.8" cy="483.23" r="1.35"/><circle cx="37.8" cy="481.68" r="1.35"/><circle cx="37.8" cy="480.13" r="1.35"/><circle cx="37.8" cy="478.58" r="1.35"/><circle cx="37.8" cy="477.03" r="1.35"/><circle cx="37.8" cy="475.48" r="1.35"/><circle cx="37.8" cy="473.93" r="1.35"/><circle cx="37.8" cy="472.38" r="1.35"/><circle cx="37.8" cy="470.84" r="1.35"/><circle cx="42.34" cy="469.29" r="1.35"/><circle cx="51.42" cy="466.19" r="1.35"/><circle cx="51.42" cy="464.64" r="1.35"/><circle cx="69.57" cy="463.09" r="1.35"/><circle cx="74.11" cy="458.44" r="1.35"/><circle cx="78.65" cy="456.9" r="1.35"/><circle cx="83.19" cy="456.9" r="1.35"/><circle cx="92.27" cy="456.9" r="1.35"/><circle cx="105.89" cy="456.9" r="1.35"/><circle cx="110.43" cy="456.9" r="1.35"/><circle cx="119.5" cy="456.9" r="1.35"/><circle cx="124.04" cy="455.35" r="1.35"/><circle cx="128.58" cy="455.35" r="1.35"/><circle cx="137.66" cy="453.8" r="1.35"/><circle cx="142.2" cy="453.8" r="1.35"/><circle cx="142.2" cy="450.7" r="1.35"/></g>
<text x="162.9" y="434.4" font-family="'Liberation Serif', serif" font-size="8.6" font-weight="bold" fill="#111" class="h">F</text>
<text x="206" y="439.6" font-family="'Liberation Sans', sans-serif" font-size="8.15" font-weight="bold" fill="#111" class="m">ROC curve of 1641 cm<tspan dx="1.9" dy="-2.2" font-size="5.4">−1</tspan></text>
<path d="M191.9,450.7 V520.4 H296.3" stroke="#666" stroke-width="1.2" fill="none"/>
<path d="M189.9,520.4 H191.9 M189.9,485.55 H191.9 M189.9,450.7 H191.9 M191.9,520.4 V522.4 M244.1,520.4 V522.4 M296.3,520.4 V522.4" stroke="#444" stroke-width="1" fill="none"/>
<text x="189.3" y="521.9" font-family="'Liberation Sans', sans-serif" font-size="5.2" font-weight="bold" fill="#222" text-anchor="end">0</text>
<text x="191.9" y="528.4" font-family="'Liberation Sans', sans-serif" font-size="5.2" font-weight="bold" fill="#222" text-anchor="middle">0</text>
<text x="189.3" y="487.05" font-family="'Liberation Sans', sans-serif" font-size="5.2" font-weight="bold" fill="#222" text-anchor="end">0</text>
<text x="244.1" y="528.4" font-family="'Liberation Sans', sans-serif" font-size="5.2" font-weight="bold" fill="#222" text-anchor="middle">50</text>
<text x="189.3" y="452.2" font-family="'Liberation Sans', sans-serif" font-size="5.2" font-weight="bold" fill="#222" text-anchor="end">100</text>
<text x="296.3" y="528.4" font-family="'Liberation Sans', sans-serif" font-size="5.2" font-weight="bold" fill="#222" text-anchor="middle">100</text>
<text x="248" y="542.9" font-family="'Liberation Sans', sans-serif" font-size="6.25" font-weight="bold" fill="#222" text-anchor="middle">100 (%) − Specificity (%)</text>
<text transform="translate(179.9,484.9) rotate(-90)" font-family="'Liberation Sans', sans-serif" font-size="6.2" font-weight="bold" fill="#222" text-anchor="middle">Sensitivity (%)</text>
<text x="254.3" y="488.8" font-family="'Liberation Sans', sans-serif" font-size="4.9" fill="#222">AUC: 0.680</text>
<text x="254.3" y="494.25" font-family="'Liberation Sans', sans-serif" font-size="4.9" fill="#222">p = 0.0153</text>
<text x="254.3" y="499.7" font-family="'Liberation Sans', sans-serif" font-size="4.9" fill="#222">Sensitivity: 51.1%</text>
<text x="254.3" y="505.15" font-family="'Liberation Sans', sans-serif" font-size="4.9" fill="#222">Specificity: 82.6%</text>
<text x="254.3" y="510.6" font-family="'Liberation Sans', sans-serif" font-size="4.9" fill="#222">Cut-off = &gt; 2.569</text>
<polyline points="191.9,520.4 191.9,518.85 191.9,517.3 191.9,515.75 196.44,515.75 196.44,514.2 196.44,512.66 196.44,511.11 196.44,509.56 196.44,508.01 196.44,506.46 200.98,504.91 205.52,504.91 205.52,503.36 205.52,501.81 210.06,501.81 210.06,500.26 210.06,498.72 210.06,497.17 210.06,495.62 210.06,494.07 210.06,492.52 210.06,490.97 210.06,489.42 210.06,487.87 210.06,486.32 210.06,484.78 214.6,484.78 214.6,483.23 219.13,483.23 228.21,483.23 228.21,481.68 228.21,480.13 232.75,480.13 232.75,478.58 232.75,477.03 237.29,477.03 237.29,475.48 237.29,473.93 241.83,473.93 241.83,472.38 241.83,470.84 241.83,469.29 241.83,467.74 246.37,467.74 250.91,467.74 250.91,466.19 250.91,464.64 250.91,463.09 255.45,463.09 264.53,461.54 264.53,459.99 264.53,458.44 264.53,456.9 264.53,455.35 269.07,455.35 273.6,453.8 273.6,452.25 273.6,450.7 278.14,450.7 282.68,450.7 287.22,450.7 291.76,450.7 296.3,450.7" stroke="#111" stroke-width="0.9" fill="none"/>
<g fill="#111"><circle cx="191.9" cy="520.4" r="1.35"/><circle cx="191.9" cy="518.85" r="1.35"/><circle cx="191.9" cy="517.3" r="1.35"/><circle cx="191.9" cy="515.75" r="1.35"/><circle cx="196.44" cy="515.75" r="1.35"/><circle cx="196.44" cy="514.2" r="1.35"/><circle cx="196.44" cy="512.66" r="1.35"/><circle cx="196.44" cy="511.11" r="1.35"/><circle cx="196.44" cy="509.56" r="1.35"/><circle cx="196.44" cy="508.01" r="1.35"/><circle cx="196.44" cy="506.46" r="1.35"/><circle cx="200.98" cy="504.91" r="1.35"/><circle cx="205.52" cy="504.91" r="1.35"/><circle cx="205.52" cy="503.36" r="1.35"/><circle cx="205.52" cy="501.81" r="1.35"/><circle cx="210.06" cy="501.81" r="1.35"/><circle cx="210.06" cy="500.26" r="1.35"/><circle cx="210.06" cy="498.72" r="1.35"/><circle cx="210.06" cy="497.17" r="1.35"/><circle cx="210.06" cy="495.62" r="1.35"/><circle cx="210.06" cy="494.07" r="1.35"/><circle cx="210.06" cy="492.52" r="1.35"/><circle cx="210.06" cy="490.97" r="1.35"/><circle cx="210.06" cy="489.42" r="1.35"/><circle cx="210.06" cy="487.87" r="1.35"/><circle cx="210.06" cy="486.32" r="1.35"/><circle cx="210.06" cy="484.78" r="1.35"/><circle cx="214.6" cy="484.78" r="1.35"/><circle cx="214.6" cy="483.23" r="1.35"/><circle cx="219.13" cy="483.23" r="1.35"/><circle cx="228.21" cy="483.23" r="1.35"/><circle cx="228.21" cy="481.68" r="1.35"/><circle cx="228.21" cy="480.13" r="1.35"/><circle cx="232.75" cy="480.13" r="1.35"/><circle cx="232.75" cy="478.58" r="1.35"/><circle cx="232.75" cy="477.03" r="1.35"/><circle cx="237.29" cy="477.03" r="1.35"/><circle cx="237.29" cy="475.48" r="1.35"/><circle cx="237.29" cy="473.93" r="1.35"/><circle cx="241.83" cy="473.93" r="1.35"/><circle cx="241.83" cy="472.38" r="1.35"/><circle cx="241.83" cy="470.84" r="1.35"/><circle cx="241.83" cy="469.29" r="1.35"/><circle cx="241.83" cy="467.74" r="1.35"/><circle cx="246.37" cy="467.74" r="1.35"/><circle cx="250.91" cy="467.74" r="1.35"/><circle cx="250.91" cy="466.19" r="1.35"/><circle cx="250.91" cy="464.64" r="1.35"/><circle cx="250.91" cy="463.09" r="1.35"/><circle cx="255.45" cy="463.09" r="1.35"/><circle cx="264.53" cy="461.54" r="1.35"/><circle cx="264.53" cy="459.99" r="1.35"/><circle cx="264.53" cy="458.44" r="1.35"/><circle cx="264.53" cy="456.9" r="1.35"/><circle cx="264.53" cy="455.35" r="1.35"/><circle cx="269.07" cy="455.35" r="1.35"/><circle cx="273.6" cy="453.8" r="1.35"/><circle cx="273.6" cy="452.25" r="1.35"/><circle cx="273.6" cy="450.7" r="1.35"/><circle cx="278.14" cy="450.7" r="1.35"/><circle cx="282.68" cy="450.7" r="1.35"/><circle cx="287.22" cy="450.7" r="1.35"/><circle cx="291.76" cy="450.7" r="1.35"/><circle cx="296.3" cy="450.7" r="1.35"/></g>
<text x="329" y="434.9" font-family="'Liberation Serif', serif" font-size="8.6" font-weight="bold" fill="#111" class="h">G</text>
<text x="360.6" y="439.6" font-family="'Liberation Sans', sans-serif" font-size="8.15" font-weight="bold" fill="#111" class="m">ROC curve of 1073 cm<tspan dx="1.9" dy="-2.2" font-size="5.4">−1</tspan></text>
<path d="M346.4,450.7 V520.4 H451.1" stroke="#666" stroke-width="1.2" fill="none"/>
<path d="M344.4,520.4 H346.4 M344.4,485.55 H346.4 M344.4,450.7 H346.4 M346.4,520.4 V522.4 M398.75,520.4 V522.4 M451.1,520.4 V522.4" stroke="#444" stroke-width="1" fill="none"/>
<text x="343.8" y="521.9" font-family="'Liberation Sans', sans-serif" font-size="5.2" font-weight="bold" fill="#222" text-anchor="end">0</text>
<text x="346.4" y="528.4" font-family="'Liberation Sans', sans-serif" font-size="5.2" font-weight="bold" fill="#222" text-anchor="middle">0</text>
<text x="343.8" y="487.05" font-family="'Liberation Sans', sans-serif" font-size="5.2" font-weight="bold" fill="#222" text-anchor="end">50</text>
<text x="398.75" y="528.4" font-family="'Liberation Sans', sans-serif" font-size="5.2" font-weight="bold" fill="#222" text-anchor="middle">50</text>
<text x="343.8" y="452.2" font-family="'Liberation Sans', sans-serif" font-size="5.2" font-weight="bold" fill="#222" text-anchor="end">100</text>
<text x="451.1" y="528.4" font-family="'Liberation Sans', sans-serif" font-size="5.2" font-weight="bold" fill="#222" text-anchor="middle">100</text>
<text x="402.2" y="542.9" font-family="'Liberation Sans', sans-serif" font-size="6.25" font-weight="bold" fill="#222" text-anchor="middle">100 (%) − Specificity (%)</text>
<text transform="translate(328.2,484.9) rotate(-90)" font-family="'Liberation Sans', sans-serif" font-size="6.2" font-weight="bold" fill="#222" text-anchor="middle">Sensitivity (%)</text>
<text x="409.2" y="488.8" font-family="'Liberation Sans', sans-serif" font-size="4.9" fill="#222">AUC: 0.716</text>
<text x="409.2" y="494.25" font-family="'Liberation Sans', sans-serif" font-size="4.9" fill="#222">p = 0.0037</text>
<text x="409.2" y="499.7" font-family="'Liberation Sans', sans-serif" font-size="4.9" fill="#222">Sensitivity: 95.6%</text>
<text x="409.2" y="505.15" font-family="'Liberation Sans', sans-serif" font-size="4.9" fill="#222">Specificity: 52.2%</text>
<text x="409.2" y="510.6" font-family="'Liberation Sans', sans-serif" font-size="4.9" fill="#222">Cut-off = &gt; 1.859</text>
<polyline points="346.4,520.4 346.4,518.85 346.4,517.3 346.4,515.75 346.4,514.2 346.4,512.66 346.4,511.11 350.95,511.11 350.95,509.56 350.95,508.01 355.5,508.01 355.5,506.46 355.5,504.91 355.5,503.36 355.5,501.81 355.5,500.26 355.5,498.72 355.5,497.17 360.06,495.62 364.61,495.62 364.61,494.07 364.61,492.52 369.16,490.97 373.71,490.97 373.71,489.42 373.71,487.87 382.82,487.87 387.37,486.32 387.37,484.78 387.37,483.23 387.37,481.68 387.37,480.13 387.37,478.58 387.37,477.03 387.37,475.48 387.37,473.93 387.37,472.38 387.37,470.84 391.92,470.84 391.92,469.29 391.92,467.74 391.92,466.19 391.92,464.64 396.47,464.64 396.47,463.09 396.47,461.54 396.47,459.99 396.47,458.44 396.47,456.9 396.47,455.35 396.47,453.8 401.03,453.8 414.68,453.8 419.23,453.8 419.23,452.25 423.79,452.25 428.34,452.25 432.89,452.25 432.89,450.7 437.44,450.7 442,450.7 446.55,450.7 451.1,450.7" stroke="#111" stroke-width="0.9" fill="none"/>
<g fill="#111"><circle cx="346.4" cy="520.4" r="1.35"/><circle cx="346.4" cy="518.85" r="1.35"/><circle cx="346.4" cy="517.3" r="1.35"/><circle cx="346.4" cy="515.75" r="1.35"/><circle cx="346.4" cy="514.2" r="1.35"/><circle cx="346.4" cy="512.66" r="1.35"/><circle cx="346.4" cy="511.11" r="1.35"/><circle cx="350.95" cy="511.11" r="1.35"/><circle cx="350.95" cy="509.56" r="1.35"/><circle cx="350.95" cy="508.01" r="1.35"/><circle cx="355.5" cy="508.01" r="1.35"/><circle cx="355.5" cy="506.46" r="1.35"/><circle cx="355.5" cy="504.91" r="1.35"/><circle cx="355.5" cy="503.36" r="1.35"/><circle cx="355.5" cy="501.81" r="1.35"/><circle cx="355.5" cy="500.26" r="1.35"/><circle cx="355.5" cy="498.72" r="1.35"/><circle cx="355.5" cy="497.17" r="1.35"/><circle cx="360.06" cy="495.62" r="1.35"/><circle cx="364.61" cy="495.62" r="1.35"/><circle cx="364.61" cy="494.07" r="1.35"/><circle cx="364.61" cy="492.52" r="1.35"/><circle cx="369.16" cy="490.97" r="1.35"/><circle cx="373.71" cy="490.97" r="1.35"/><circle cx="373.71" cy="489.42" r="1.35"/><circle cx="373.71" cy="487.87" r="1.35"/><circle cx="382.82" cy="487.87" r="1.35"/><circle cx="387.37" cy="486.32" r="1.35"/><circle cx="387.37" cy="484.78" r="1.35"/><circle cx="387.37" cy="483.23" r="1.35"/><circle cx="387.37" cy="481.68" r="1.35"/><circle cx="387.37" cy="480.13" r="1.35"/><circle cx="387.37" cy="478.58" r="1.35"/><circle cx="387.37" cy="477.03" r="1.35"/><circle cx="387.37" cy="475.48" r="1.35"/><circle cx="387.37" cy="473.93" r="1.35"/><circle cx="387.37" cy="472.38" r="1.35"/><circle cx="387.37" cy="470.84" r="1.35"/><circle cx="391.92" cy="470.84" r="1.35"/><circle cx="391.92" cy="469.29" r="1.35"/><circle cx="391.92" cy="467.74" r="1.35"/><circle cx="391.92" cy="466.19" r="1.35"/><circle cx="391.92" cy="464.64" r="1.35"/><circle cx="396.47" cy="464.64" r="1.35"/><circle cx="396.47" cy="463.09" r="1.35"/><circle cx="396.47" cy="461.54" r="1.35"/><circle cx="396.47" cy="459.99" r="1.35"/><circle cx="396.47" cy="458.44" r="1.35"/><circle cx="396.47" cy="456.9" r="1.35"/><circle cx="396.47" cy="455.35" r="1.35"/><circle cx="396.47" cy="453.8" r="1.35"/><circle cx="401.03" cy="453.8" r="1.35"/><circle cx="414.68" cy="453.8" r="1.35"/><circle cx="419.23" cy="453.8" r="1.35"/><circle cx="419.23" cy="452.25" r="1.35"/><circle cx="423.79" cy="452.25" r="1.35"/><circle cx="428.34" cy="452.25" r="1.35"/><circle cx="432.89" cy="452.25" r="1.35"/><circle cx="432.89" cy="450.7" r="1.35"/><circle cx="437.44" cy="450.7" r="1.35"/><circle cx="442" cy="450.7" r="1.35"/><circle cx="446.55" cy="450.7" r="1.35"/><circle cx="451.1" cy="450.7" r="1.35"/></g>
</svg>
</body></html>
